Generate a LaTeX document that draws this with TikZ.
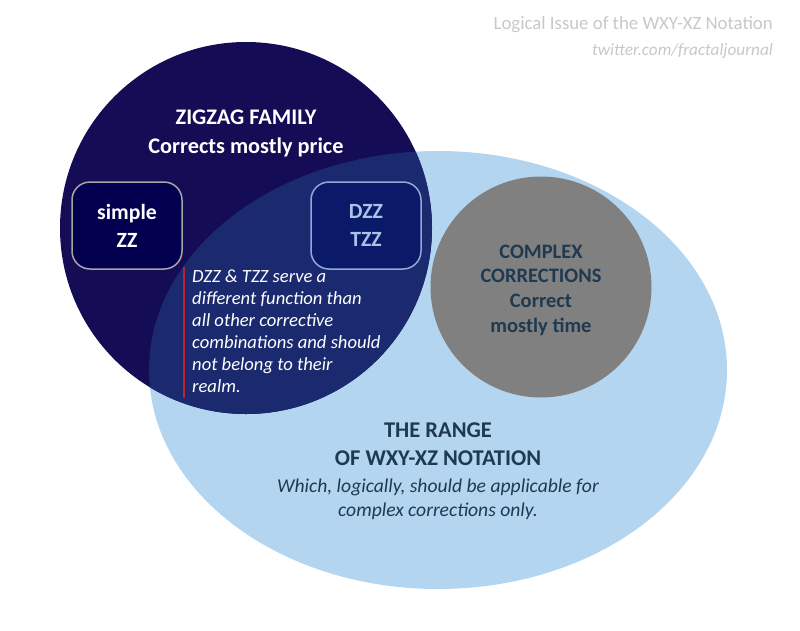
\documentclass[tikz,border=0pt]{standalone}
\usepackage{fontspec}
\setmainfont{Carlito}
\usetikzlibrary{shapes.geometric}

\definecolor{zigzagnavy}{HTML}{140C55}
\definecolor{overlapnavy}{HTML}{1B2A6E}
\definecolor{rangeblue}{HTML}{B3D5F0}
\definecolor{complexgray}{HTML}{808080}
\definecolor{darktext}{HTML}{1F3A50}
\definecolor{simplefill}{HTML}{03004F}
\definecolor{dzzfill}{HTML}{0B1A68}
\definecolor{dzzline}{HTML}{8EAADB}
\definecolor{dzztext}{HTML}{A9C2E6}
\definecolor{notered}{HTML}{C0202A}
\definecolor{headgray}{HTML}{C8C8C8}

\begin{document}
\begin{tikzpicture}[
    x=1pt, y=-1pt,
    setnode/.style={
        inner sep=0pt,
        outer sep=0pt
    },
    zzbox/.style={
        rounded corners=18pt,
        line width=1.5pt,
        minimum width=110pt,
        minimum height=87pt,
        align=center,
        font=\fontsize{21.7}{28}\selectfont\bfseries
    },
    label/.style={
        inner sep=0pt,
        align=center,
        font=\fontsize{18}{29}\selectfont\bfseries
    },
    note/.style={
        inner sep=0pt,
        align=left,
        text=white,
        font=\fontsize{18.6}{22}\selectfont\itshape
    },
    redbar/.style={draw=notered, line width=2.5pt}
]
    \useasboundingbox (0,0) rectangle (800,630);

    % the three sets
    \node[setnode, ellipse, fill=rangeblue, minimum width=578pt, minimum height=438pt] (range) at (438,370) {};
    \node[setnode, circle, fill=zigzagnavy, minimum size=372pt] (zigzag) at (246,228) {};
    \begin{scope}
        \clip (range.center) ellipse [x radius=289pt, y radius=219pt];
        \fill[overlapnavy] (zigzag.center) circle [radius=186pt];
    \end{scope}
    \node[setnode, circle, fill=complexgray, minimum size=221pt] (complex) at (541,287) {};

    % headline
    \node[anchor=base east, inner sep=0pt, text=headgray, font=\fontsize{18.8}{20}\selectfont] (head) at (773,29) {Logical Issue of the WXY-XZ Notation};
    \node[anchor=base east, inner sep=0pt, text=headgray, font=\fontsize{17.2}{20}\selectfont\itshape] (handle) at (773,55) {twitter.com/fractaljournal};

    % zigzag family
    \node[label, anchor=base, text=white, font=\fontsize{22.3}{26}\selectfont\bfseries] (zztitle) at (246,124) {ZIGZAG FAMILY};
    \node[label, anchor=base, text=white, font=\fontsize{22.3}{26}\selectfont\bfseries] (zzsub) at (246,153) {Corrects mostly price};
    \node[zzbox, draw=black!35, fill=simplefill, text=white] (simple) at (127,225.5) {simple\\ZZ};
    \node[zzbox, draw=dzzline, fill=dzzfill, text=dzztext] (dzz) at (366,225.5) {DZZ\\TZZ};

    % note on the overlap
    \coordinate (barTop) at (184,267);
    \coordinate (barBot) at (184,398);
    \draw[redbar] (barTop) -- (barBot);
    \node[note, anchor=north west] (remark) at (192,269.5) {DZZ \& TZZ serve a\\different function than\\all other corrective\\combinations and should\\not belong to their\\realm.};

    % complex corrections
    \node[label, text=darktext, font=\fontsize{20.5}{24.7}\selectfont\bfseries] (cctitle) at (541,290) {COMPLEX\\CORRECTIONS\\Correct\\mostly time};

    % range of the notation
    \node[label, text=darktext, font=\fontsize{22.5}{28}\selectfont\bfseries] (rangetitle) at (438,444) {THE RANGE\\OF WXY-XZ NOTATION};
    \node[label, text=darktext, font=\fontsize{19.6}{23.5}\selectfont\itshape] (rangenote) at (438,499.5) {Which, logically, should be applicable for\\complex corrections only.};
\end{tikzpicture}
\end{document}
